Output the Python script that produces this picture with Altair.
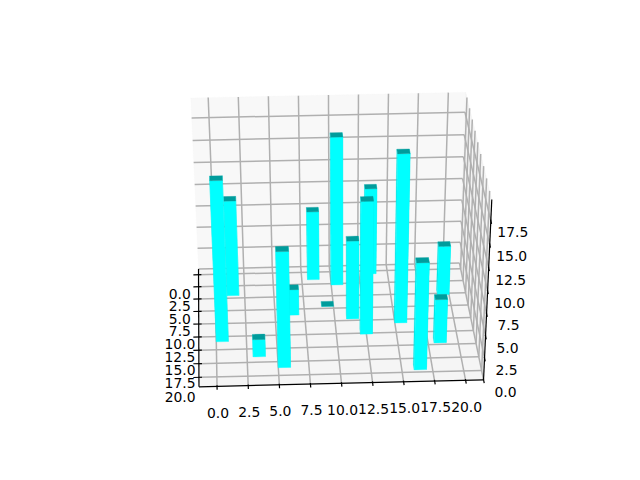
import numpy as np
import altair as alt

# bar values
bar_x = [0, 1, 3, 5, 6, 8, 9, 10, 11, 13, 12, 15, 16, 19, 18]
bar_y = [12.5, 3.5, 15.5, 17.6, 7.7, 0.6, 6.1, 1.8, 8.7, -0.35, 11.7, 9.7, 18.6, 4.3, 13.7]
bar_h = [18, 11, 2, 13, 3, 8, 0, 17, 9, 10, 15, 19, 12, 5.7, 5]
bar_w = 1
bar_d = 1

x_lim = (-1.45, 21.45)
y_lim = (-1.2, 21.7)
z_lim = (0, 19.7)
x_ticks = [0, 2.5, 5, 7.5, 10, 12.5, 15, 17.5, 20]
y_ticks = [0, 2.5, 5, 7.5, 10, 12.5, 15, 17.5, 20]
z_ticks = [0, 2.5, 5, 7.5, 10, 12.5, 15, 17.5]

# camera calibration: box corners and where they appear
box_corners = [(x_lim[0], y_lim[1], z_lim[0]), (x_lim[1], y_lim[1], z_lim[0]),
               (x_lim[0], y_lim[0], z_lim[0]), (x_lim[1], y_lim[0], z_lim[0]),
               (x_lim[0], y_lim[0], z_lim[1]), (x_lim[1], y_lim[0], z_lim[1]),
               (x_lim[1], y_lim[1], z_lim[1])]
screen_corners = [(199.3, 386.5), (483.3, 380.7), (198.4, 269.5), (459.5, 262),
                  (190.5, 97.7), (466, 93), (491.7, 199)]

A, b = [], []
for (X, Y, Z), (u, v) in zip(box_corners, screen_corners):
    A.append([X, Y, Z, 1, 0, 0, 0, 0, -u*X, -u*Y, -u*Z]); b.append(u)
    A.append([0, 0, 0, 0, X, Y, Z, 1, -v*X, -v*Y, -v*Z]); b.append(v)
P = np.append(np.linalg.lstsq(np.array(A, float), np.array(b, float), rcond=None)[0], 1).reshape(3, 4)


def proj(x, y, z):
    w = P @ np.array([x, y, z, 1.0])
    return [float(w[0] / w[2]), float(w[1] / w[2])]


def poly(points, color):
    c = [proj(*p) for p in points]
    return {"type": "Feature", "properties": {"c": color},
            "geometry": {"type": "Polygon", "coordinates": [c + [c[0]]]}}


def seg(p, q):
    return {"type": "Feature", "properties": {},
            "geometry": {"type": "LineString", "coordinates": [proj(*p), proj(*q)]}}


x0, x1 = x_lim
y0, y1 = y_lim
z0, z1 = z_lim

BACK, RIGHT, FLOOR = "#f8f8f8", "#f3f3f3", "#f5f5f5"
FRONT, TOP, SIDE = "#00ffff", "#009c9c", "#00e6e6"

panes = [
    poly([(x0, y0, z0), (x1, y0, z0), (x1, y0, z1), (x0, y0, z1)], BACK),
    poly([(x1, y0, z0), (x1, y1, z0), (x1, y1, z1), (x1, y0, z1)], RIGHT),
    poly([(x0, y0, z0), (x1, y0, z0), (x1, y1, z0), (x0, y1, z0)], FLOOR),
]

grid = []
for t in x_ticks:
    grid += [seg((t, y0, z0), (t, y1, z0)), seg((t, y0, z0), (t, y0, z1))]
for t in y_ticks:
    grid += [seg((x0, t, z0), (x1, t, z0)), seg((x1, t, z0), (x1, t, z1))]
for t in z_ticks:
    grid += [seg((x0, y0, t), (x1, y0, t)), seg((x1, y0, t), (x1, y1, t))]

axes = [seg((x0, y1, z0), (x1, y1, z0)), seg((x0, y0, z0), (x0, y1, z0)), seg((x1, y1, z0), (x1, y1, z1))]
for t in x_ticks:
    axes.append(seg((t, y1 - 0.2, z0), (t, y1 + 0.6, z0)))
for t in y_ticks:
    axes.append(seg((x0 - 0.45, t, z0), (x0 + 0.25, t, z0)))
for t in z_ticks:
    axes.append(seg((x1, y1 - 0.2, t), (x1, y1 + 0.6, t)))

faces = []
order = sorted(range(len(bar_x)), key=lambda i: (bar_y[i], -abs(bar_x[i] - 10)))
for i in order:
    xa, xb = bar_x[i], bar_x[i] + bar_w
    ya, yb = bar_y[i], bar_y[i] + bar_d
    h = bar_h[i]
    left = poly([(xa, ya, 0), (xa, yb, 0), (xa, yb, h), (xa, ya, h)], SIDE)
    right = poly([(xb, ya, 0), (xb, yb, 0), (xb, yb, h), (xb, ya, h)], SIDE)
    faces += [right, left] if xa < 10 else [left, right]
    faces.append(poly([(xa, yb, 0), (xb, yb, 0), (xb, yb, h), (xa, yb, h)], FRONT))
    faces.append(poly([(xa, ya, h), (xb, ya, h), (xb, yb, h), (xa, yb, h)], TOP))

labels = []
for t in x_ticks:
    p = proj(t, y1, z0)
    labels.append({"px": p[0] + 1, "py": p[1] + 27.3, "t": f"{t:.1f}"})
for t in y_ticks:
    p = proj(x0, t, z0)
    labels.append({"px": p[0] - 18.8, "py": p[1] + 20.6, "t": f"{t:.1f}"})
for t in z_ticks:
    p = proj(x1, y1, t)
    labels.append({"px": p[0] + 22, "py": p[1] + 12.7, "t": f"{t:.1f}"})

projection = dict(type="identity", scale=1, translate=[-8, -8])


def fills(features):
    return alt.Chart(alt.Data(values=features)).mark_geoshape(strokeWidth=0.3).encode(
        fill=alt.Color("properties.c:N", scale=None, legend=None),
        stroke=alt.Color("properties.c:N", scale=None, legend=None),
    ).project(**projection)


def lines(features, color, width):
    return alt.Chart(alt.Data(values=features)).mark_geoshape(
        filled=False, stroke=color, strokeWidth=width).project(**projection)


text = alt.Chart(alt.Data(values=labels)).mark_text(
    font="DejaVu Sans", fontSize=13.9, color="#000000", align="center", baseline="middle"
).encode(longitude="px:Q", latitude="py:Q", text="t:N").project(**projection)

chart = alt.layer(
    fills(panes),
    lines(grid, "#b0b0b0", 1.5),
    lines(axes, "#000000", 1.2),
    fills(faces),
    text,
).properties(width=624, height=464, padding=0, autosize=alt.AutoSizeParams(type="none"),
             background="#ffffff").configure_view(stroke=None)

chart.save("out.html", embed_options={"renderer": "svg", "actions": False})
